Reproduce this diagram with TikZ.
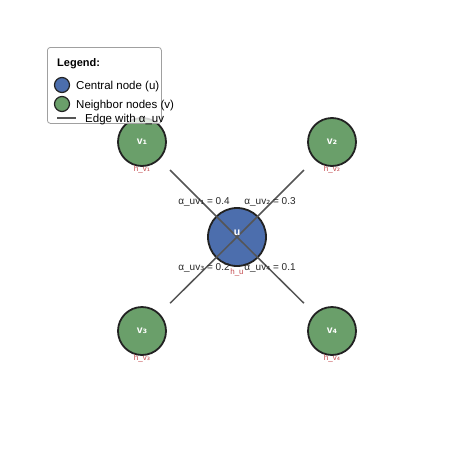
\documentclass[tikz,border=0pt]{standalone}
\usepackage{fontspec}
\setmainfont{Liberation Sans}
\newfontfamily\subf{DejaVu Sans}
\newcommand\sbs[1]{{\subf #1}}
\definecolor{cblue}{RGB}{76,110,173}
\definecolor{cgreen}{RGB}{106,159,106}
\definecolor{cred}{RGB}{196,78,82}
\definecolor{cedge}{RGB}{85,85,85}
\definecolor{cborder}{RGB}{34,34,34}
\definecolor{ctext}{RGB}{40,40,40}
\definecolor{clegend}{RGB}{160,160,160}
\begin{document}
\begin{tikzpicture}[x=1pt,y=-1pt,
  central/.style={circle, draw=cborder, line width=1.8pt, fill=cblue, minimum size=58pt, inner sep=0pt},
  neighbor/.style={circle, draw=cborder, line width=1.8pt, fill=cgreen, minimum size=48pt, inner sep=0pt,
    text=white, font=\bfseries\fontsize{10.5}{12}\selectfont},
  hlab/.style={text=cred, font=\fontsize{8}{9}\selectfont, inner sep=0pt, yshift=-1.5pt},
  elab/.style={text=ctext, font=\fontsize{10}{12}\selectfont, inner sep=0pt, yshift=-1.5pt},
  edge/.style={draw=cedge, line width=1.5pt},
  legtext/.style={anchor=west, text=black, font=\fontsize{11.5}{13}\selectfont, inner sep=0pt, yshift=-1.5pt},
  legdot/.style={circle, draw=cborder, line width=1.2pt, minimum size=15pt, inner sep=0pt}]
\useasboundingbox[fill=white] (0,0) rectangle (474,474);

% nodes
\node[neighbor] (v1) at (142,142) {v\sbs{₁}};
\node[neighbor] (v2) at (332,142) {v\sbs{₂}};
\node[neighbor] (v3) at (142,331) {v\sbs{₃}};
\node[neighbor] (v4) at (332,331) {v\sbs{₄}};
\node[central] (u) at (237,237) {};

% edges
\draw[edge, shorten <=39.6pt] (v1.center) -- (u.center);
\draw[edge, shorten <=39.6pt] (v2.center) -- (u.center);
\draw[edge, shorten <=39.6pt] (v3.center) -- (u.center);
\draw[edge, shorten <=39.6pt] (v4.center) -- (u.center);

\node[text=white, font=\bfseries\fontsize{10.5}{12}\selectfont, inner sep=0pt] (ut) at (237,233) {u};

% labels
\node[hlab] (hv1) at (142,168) {h\_v\sbs{₁}};
\node[hlab] (hv2) at (332,168) {h\_v\sbs{₂}};
\node[hlab] (hv3) at (142,357) {h\_v\sbs{₃}};
\node[hlab] (hv4) at (332,357) {h\_v\sbs{₄}};
\node[hlab] (hu) at (237,271) {h\_u};

\node[elab] (a1) at (204,200) {α\_uv\sbs{₁} = 0.4};
\node[elab] (a2) at (270,200) {α\_uv\sbs{₂} = 0.3};
\node[elab] (a3) at (204,266) {α\_uv\sbs{₃} = 0.2};
\node[elab] (a4) at (270,266) {α\_uv\sbs{₄} = 0.1};

% legend (drawn on top)
\node[draw=clegend, line width=0.8pt, rounded corners=3pt, fill=white, fill opacity=0.8, draw opacity=1, minimum width=114pt, minimum height=76pt, inner sep=0pt, anchor=north west] (legbox) at (47,47) {};
\node[legtext, font=\bfseries\fontsize{11}{13}\selectfont] (legtitle) at (57,62) {Legend:};
\node[legdot, fill=cblue] (lgu) at (62,85) {};
\node[legtext] (lgut) at (76,85) {Central node (u)};
\node[legdot, fill=cgreen] (lgv) at (62,104) {};
\node[legtext] (lgvt) at (76,104) {Neighbor nodes (v)};
\coordinate (lgl1) at (57,118);
\coordinate (lgl2) at (76,118);
\draw[edge] (lgl1) -- (lgl2);
\node[legtext] (lget) at (85,118) {Edge with α\_uv};
\end{tikzpicture}
\end{document}
